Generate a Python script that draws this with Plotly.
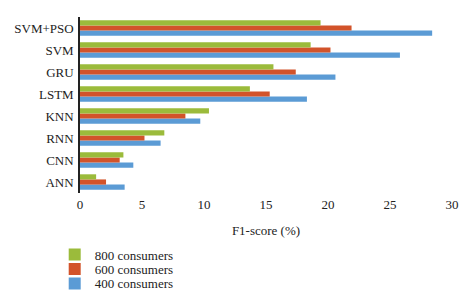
import plotly.graph_objects as go

categories = ["ANN", "CNN", "RNN", "KNN", "LSTM", "GRU", "SVM", "SVM+PSO"]
f1_800 = [1.3, 3.5, 6.8, 10.4, 13.7, 15.6, 18.6, 19.4]
f1_600 = [2.1, 3.2, 5.2, 8.5, 15.3, 17.4, 20.2, 21.9]
f1_400 = [3.6, 4.3, 6.5, 9.7, 18.3, 20.6, 25.8, 28.4]
x_ticks = [0, 5, 10, 15, 20, 25, 30]

font_family = "Liberation Serif, Times New Roman, serif"

fig = go.Figure()
fig.add_trace(go.Bar(y=categories, x=f1_400, name="400 consumers", orientation="h",
                     marker=dict(color="#5B9BD5", line=dict(width=0)), legend="legend3"))
fig.add_trace(go.Bar(y=categories, x=f1_600, name="600 consumers", orientation="h",
                     marker=dict(color="#D2532A", line=dict(width=0)), legend="legend2"))
fig.add_trace(go.Bar(y=categories, x=f1_800, name="800 consumers", orientation="h",
                     marker=dict(color="#9BBB3B", line=dict(width=0)), legend="legend"))

leg_common = dict(x=-0.068, xanchor="left", yanchor="middle", font=dict(size=13),
                  itemwidth=30, bgcolor="rgba(0,0,0,0)", borderwidth=0)

fig.update_layout(
    width=474, height=300,
    margin=dict(l=80, r=22, t=17, b=107, autoexpand=False),
    paper_bgcolor="white", plot_bgcolor="white",
    barmode="group", bargap=0.3, bargroupgap=0.0,
    font=dict(family=font_family, size=13, color="#222222"),
    xaxis=dict(range=[0, 30], tickvals=x_ticks, showgrid=False, zeroline=False,
               showline=False, ticks="", tickfont=dict(size=13), ticklabelstandoff=2,
               title=dict(text="F1-score (%)", font=dict(size=13), standoff=14)),
    yaxis=dict(categoryorder="array", categoryarray=categories, showgrid=False,
               showline=True, linecolor="#222222", linewidth=1.5, ticks="",
               tickfont=dict(size=13), ticklabelstandoff=2),
    legend=dict(leg_common, y=-0.35),
    legend2=dict(leg_common, y=-0.432),
    legend3=dict(leg_common, y=-0.514),
    showlegend=True,
)

fig.write_html("out.html")
